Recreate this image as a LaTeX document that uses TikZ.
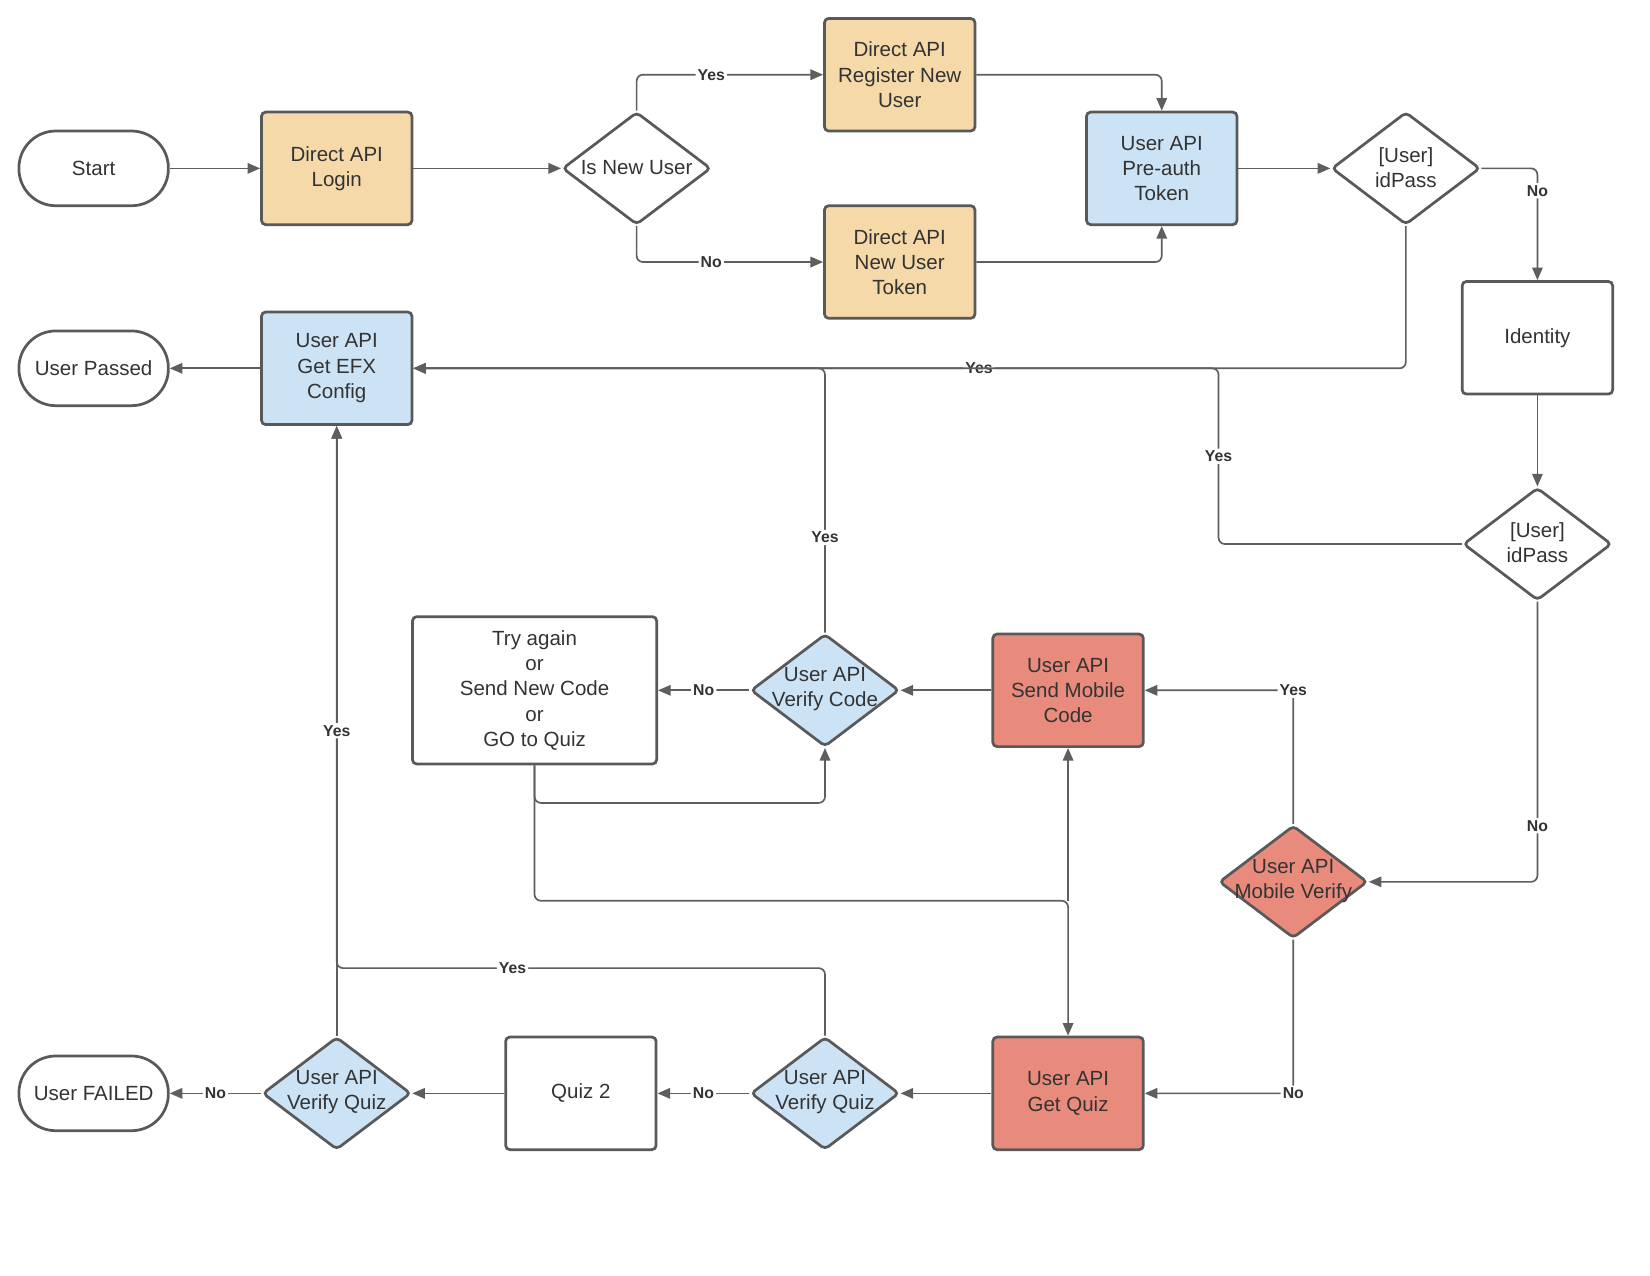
\documentclass[tikz,border=0pt]{standalone}
\usepackage{fontspec}
\setmainfont{Liberation Sans}
\usetikzlibrary{shapes.geometric,arrows.meta}
\definecolor{tan}{HTML}{F5D9A8}
\definecolor{lblue}{HTML}{CCE3F6}
\definecolor{lred}{HTML}{E88B7D}
\definecolor{bord}{HTML}{595959}
\definecolor{lc}{HTML}{5E5E5E}
\definecolor{txt}{HTML}{333333}
\tikzset{
  box/.style={draw=bord, line width=1.3pt, rounded corners=2pt, minimum width=71.5pt, minimum height=53.5pt, align=center, inner sep=0pt, text=txt},
  term/.style={draw=bord, line width=1.3pt, rounded corners=17.5pt, minimum width=71pt, minimum height=35.5pt, inner sep=0pt, text=txt},
  dia/.style={draw=bord, line width=1.3pt, diamond, minimum width=70.5pt, minimum height=53.5pt, inner sep=0pt, rounded corners=2pt},
  dtext/.style={label={[align=center,text=txt,yshift=0.5pt]center:#1}},
  conn/.style={draw=lc, line width=0.8pt, -{Triangle[length=6pt,width=5pt]}, rounded corners=3pt},
  lab/.style={fill=white, font=\bfseries\fontsize{7.5}{9}\selectfont, inner sep=1pt, text=txt}
}
\begin{document}
\begin{tikzpicture}[x=0.5pt,y=-0.5pt,font=\fontsize{9.75}{12}\selectfont]
\useasboundingbox (0,0) rectangle (1568,1212);
% nodes
\node[term] (start) at (89,160) {Start};
\node[box,fill=tan] (login) at (320,160) {Direct API\\Login};
\node[dia,dtext={Is New User}] (isnew) at (605,160) {};
\node[box,fill=tan] (reg) at (855,71) {Direct API\\Register New\\User};
\node[box,fill=tan] (newtok) at (855,249) {Direct API\\New User\\Token};
\node[box,fill=lblue] (preauth) at (1104,160) {User API\\Pre-auth\\Token};
\node[dia,dtext={[User]\\idPass}] (idpass1) at (1336,160) {};
\node[box] (identity) at (1461,321) {Identity};
\node[dia,dtext={[User]\\idPass}] (idpass2) at (1461,517) {};
\node[term] (passed) at (89,350) {User Passed};
\node[box,fill=lblue] (efx) at (320,350) {User API\\Get EFX\\Config};
\node[box,minimum width=116pt,minimum height=70pt] (tryagain) at (508,656) {Try again\\or\\Send New Code\\or\\GO to Quiz};
\node[dia,fill=lblue,dtext={User API\\Verify Code}] (vcode) at (784,656) {};
\node[box,fill=lred] (sendcode) at (1015,656) {User API\\Send Mobile\\Code};
\node[dia,fill=lred,dtext={User API\\Mobile Verify}] (mverify) at (1229,838) {};
\node[box,fill=lred] (getquiz) at (1015,1039) {User API\\Get Quiz};
\node[dia,fill=lblue,dtext={User API\\Verify Quiz}] (vquiz1) at (784,1039) {};
\node[box] (quiz2) at (552,1039) {Quiz 2};
\node[dia,fill=lblue,dtext={User API\\Verify Quiz}] (vquiz2) at (320,1039) {};
\node[term] (failed) at (89,1039) {User FAILED};
% junction coordinates
\coordinate (j1) at (1158,350);
\coordinate (c1) at (784,763);
\coordinate (c2) at (1015,856);
\coordinate (c3) at (320,920);
% connectors
\draw[conn] (start) -- (login);
\draw[conn] (login) -- (isnew);
\draw[conn] (isnew.north) |- node[lab,pos=0.7]{Yes} (reg.west);
\draw[conn] (isnew.south) |- node[lab,pos=0.7]{No} (newtok.west);
\draw[conn] (reg.east) -| (preauth.north);
\draw[conn] (newtok.east) -| (preauth.south);
\draw[conn] (preauth) -- (idpass1);
\draw[conn] (idpass1.east) -| node[lab,pos=0.6]{No} (identity.north);
\draw[conn] (idpass1.south) |- node[lab,pos=0.715]{Yes} (efx.east);
\draw[conn] (identity) -- (idpass2);
\draw[conn] (idpass2.west) -| node[lab,pos=0.75]{Yes} (j1) -- (efx.east);
\draw[conn] (idpass2.south) |- node[lab,pos=0.4]{No} (mverify.east);
\draw[conn] (mverify.north) |- node[lab,pos=0.5]{Yes} (sendcode.east);
\draw[conn] (mverify.south) |- node[lab,pos=0.5]{No} (getquiz.east);
\draw[conn] (sendcode) -- (vcode);
\draw[conn] (vcode.west) -- node[lab]{No} (tryagain.east);
\draw[conn] (vcode.north) |- node[lab,pos=0.18]{Yes} (efx.east);
\draw[conn] (tryagain.south) |- (c1) -- (vcode.south);
\draw[conn] (tryagain.south) |- (c2) -- (getquiz.north);
\draw[conn] (c2) -- (sendcode.south);
\draw[conn] (getquiz) -- (vquiz1);
\draw[conn] (vquiz1.west) -- node[lab]{No} (quiz2.east);
\draw[conn] (vquiz1.north) |- node[lab,pos=0.82]{Yes} (c3) -- (efx.south);
\draw[conn] (vquiz2.north) -- node[lab,pos=0.5]{Yes} (efx.south);
\draw[conn] (quiz2) -- (vquiz2);
\draw[conn] (vquiz2.west) -- node[lab]{No} (failed.east);
\draw[conn] (efx) -- (passed);
\end{tikzpicture}
\end{document}
